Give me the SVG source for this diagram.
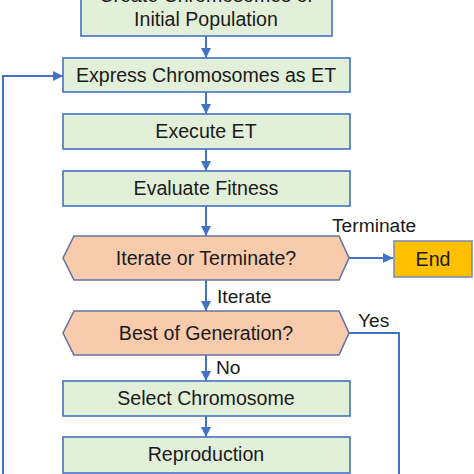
<svg xmlns="http://www.w3.org/2000/svg" width="474" height="474" viewBox="0 0 474 474">
<style>
.box{fill:#E2F0D9;stroke:#4472C4;stroke-width:1.6}
.hex{fill:#F8CBAD;stroke:#6474A6;stroke-width:1.6}
.end{fill:#FFC000;stroke:#7F8FAF;stroke-width:1.6}
.t{font-family:"Liberation Sans",Arial,sans-serif;font-size:19.6px;fill:#1a1a1a;text-anchor:middle}
.l{font-family:"Liberation Sans",Arial,sans-serif;font-size:19.2px;fill:#1a1a1a}
.c{fill:none;stroke:#4472C4;stroke-width:2}
</style>
<defs>
<marker id="ah" viewBox="0 0 10 10" refX="10" refY="5" markerWidth="5" markerHeight="5" markerUnits="strokeWidth" orient="auto">
<path d="M0,0 L10,5 L0,10 z" fill="#4472C4"/>
</marker>
</defs>
<rect width="474" height="474" fill="#ffffff"/>
<g id="connectors">
<line class="c" x1="206" y1="36" x2="206" y2="58" marker-end="url(#ah)"/>
<line class="c" x1="206" y1="92" x2="206" y2="114" marker-end="url(#ah)"/>
<line class="c" x1="206" y1="149" x2="206" y2="171" marker-end="url(#ah)"/>
<line class="c" x1="206" y1="206" x2="206" y2="236" marker-end="url(#ah)"/>
<line class="c" x1="349" y1="258" x2="393" y2="258" marker-end="url(#ah)"/>
<line class="c" x1="206" y1="280" x2="206" y2="311" marker-end="url(#ah)"/>
<line class="c" x1="206" y1="355" x2="206" y2="381" marker-end="url(#ah)"/>
<line class="c" x1="206" y1="416" x2="206" y2="437" marker-end="url(#ah)"/>
<polyline class="c" points="349,333 399,333 399,480"/>
<polyline class="c" points="3,480 3,76 63,76" marker-end="url(#ah)"/>
<text class="l" x="332" y="232">Terminate</text>
<text class="l" x="217" y="303">Iterate</text>
<text class="l" x="358" y="327">Yes</text>
<text class="l" x="216" y="374">No</text>
</g>
<g id="init">
<rect class="box" x="81" y="-30" width="251" height="66"/>
<text class="t" x="206" y="2">Create Chromosomes of</text>
<text class="t" x="206" y="26">Initial Population</text>
</g>
<g id="express">
<rect class="box" x="63" y="58" width="287" height="34"/>
<text class="t" x="206" y="82">Express Chromosomes as ET</text>
</g>
<g id="execute">
<rect class="box" x="63" y="114" width="287" height="35"/>
<text class="t" x="206" y="138">Execute ET</text>
</g>
<g id="evaluate">
<rect class="box" x="63" y="171" width="287" height="35"/>
<text class="t" x="206" y="195">Evaluate Fitness</text>
</g>
<g id="iterate">
<polygon class="hex" points="63,258 74,236 339,236 349,258 339,280 74,280"/>
<text class="t" x="206" y="265">Iterate or Terminate?</text>
</g>
<g id="end">
<rect class="end" x="394" y="241" width="78" height="36"/>
<text class="t" x="433" y="266">End</text>
</g>
<g id="best">
<polygon class="hex" points="63,333 74,311 339,311 349,333 339,355 74,355"/>
<text class="t" x="206" y="340">Best of Generation?</text>
</g>
<g id="select">
<rect class="box" x="63" y="381" width="287" height="35"/>
<text class="t" x="206" y="405">Select Chromosome</text>
</g>
<g id="reproduction">
<rect class="box" x="63" y="437" width="287" height="36"/>
<text class="t" x="206" y="461">Reproduction</text>
</g>
</svg>
